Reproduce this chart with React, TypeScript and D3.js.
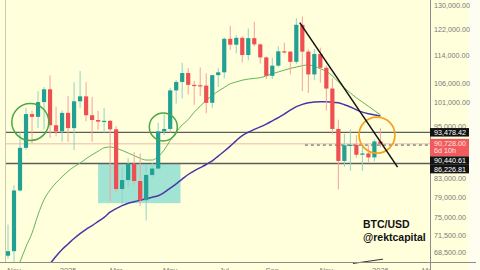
import React from "react";
import * as d3 from "d3";

const W = 480;
const H = 270;

// weekly candles, first Monday = 2024-10-28, prices in USD thousands
const firstWeek = "2024-10-28";
const opens = [67.9, 68.7, 80.4, 89.8, 98.0, 97.3, 101.1, 104.5, 95.2, 93.7, 98.3, 94.5, 101.3, 102.6, 97.7, 96.5, 96.1, 96.3, 94.2, 80.7, 82.6, 86.1, 82.4, 78.4, 83.7, 85.1, 93.7, 94.3, 104.2, 106.5, 109.0, 105.7, 105.6, 105.5, 100.9, 108.4, 109.2, 119.1, 117.3, 119.4, 114.2, 119.3, 117.4, 113.5, 108.2, 111.1, 115.3, 115.2, 112.2, 123.5, 115.2, 108.6, 114.5, 110.5, 104.7, 94.3, 86.8, 90.3, 90.5, 88.2, 88.5, 87.6, 91.3];
const highs = [73.6, 81.5, 93.5, 99.6, 98.9, 104.0, 105.1, 108.3, 99.9, 98.9, 102.7, 106.4, 109.6, 106.5, 102.5, 98.8, 99.5, 96.5, 95.0, 85.3, 87.5, 88.8, 88.5, 86.1, 86.4, 95.8, 97.9, 104.9, 107.1, 111.9, 110.4, 106.8, 110.6, 108.9, 108.5, 110.5, 119.5, 123.2, 120.2, 119.9, 122.3, 124.5, 117.6, 113.8, 113.4, 116.8, 117.9, 115.4, 125.7, 126.2, 115.9, 116.0, 116.4, 111.1, 107.5, 96.6, 93.1, 94.2, 92.8, 90.6, 90.5, 91.8, 94.5];
const lows = [67.4, 66.8, 80.2, 89.4, 90.8, 94.5, 94.2, 92.1, 92.5, 91.2, 91.2, 89.3, 99.5, 96.2, 91.2, 94.1, 93.4, 78.2, 80.0, 77.5, 81.2, 81.6, 77.2, 74.4, 83.1, 85.1, 92.8, 93.4, 100.7, 102.1, 103.1, 100.4, 102.7, 98.2, 99.6, 105.1, 107.5, 115.7, 114.7, 112.0, 112.6, 116.8, 111.7, 107.3, 107.3, 110.6, 114.6, 108.6, 111.6, 104.0, 103.5, 107.0, 106.3, 98.9, 93.0, 80.6, 85.5, 84.6, 87.5, 84.6, 86.5, 86.7, 89.9];
const closes = [68.7, 80.4, 89.8, 98.0, 97.3, 101.1, 104.5, 95.2, 93.7, 98.3, 94.5, 101.3, 102.6, 97.7, 96.5, 96.1, 96.3, 94.2, 80.7, 82.6, 86.1, 82.4, 78.4, 83.7, 85.1, 93.7, 94.3, 104.2, 106.5, 109.0, 105.7, 105.6, 105.5, 100.9, 108.4, 109.2, 119.1, 117.3, 119.4, 114.2, 119.3, 117.4, 113.5, 108.2, 111.1, 115.3, 115.2, 112.2, 123.5, 115.2, 108.6, 114.5, 110.5, 104.7, 94.3, 86.8, 90.4, 90.5, 88.2, 88.5, 87.6, 91.3, 90.728];

// moving averages (USD thousands), one value per week
const greenMA = [61.0, 64.0, 66.8, 69.5, 72.0, 75.5, 78.5, 80.5, 82.0, 83.3, 84.5, 85.5, 86.3, 87.3, 88.2, 89.0, 89.8, 90.0, 89.7, 89.2, 88.6, 88.0, 87.4, 87.0, 87.0, 87.8, 89.3, 91.5, 93.5, 95.3, 96.6, 98.5, 100.0, 101.6, 102.8, 104.0, 105.0, 106.0, 106.5, 107.0, 107.3, 107.5, 107.7, 108.2, 108.8, 109.3, 109.8, 110.3, 110.7, 111.1, 111.3, 110.9, 110.2, 109.5, 108.2, 106.5, 104.9, 103.5, 102.2, 101.1, 100.0, 98.9, 97.8];
const purpleMA = [56.0, 58.0, 59.5, 61.0, 62.5, 64.0, 65.5, 66.5, 67.8, 69.0, 70.0, 71.0, 71.9, 72.7, 73.4, 74.2, 75.0, 76.0, 76.7, 77.3, 77.8, 78.1, 78.4, 78.7, 79.0, 79.3, 80.0, 80.9, 81.8, 82.8, 83.8, 84.6, 85.3, 86.0, 86.8, 87.9, 89.0, 90.2, 91.5, 92.7, 93.5, 94.2, 94.8, 95.5, 96.3, 97.1, 98.0, 99.0, 99.9, 100.5, 100.9, 101.1, 101.2, 101.2, 101.0, 100.9, 100.4, 99.8, 99.1, 98.5, 98.1, 97.8, 97.5];

const yTicks = [130000, 122000, 114000, 106000, 101000, 95000, 83000, 79000, 75000, 71500, 68500];
const xTickDates = ["2024-11-04", "2025-01-06", "2025-03-03", "2025-05-05", "2025-07-07", "2025-09-01", "2025-11-03", "2026-01-05", "2026-03-02"];
const xTickLabels = ["Nov", "2025", "Mar", "May", "Jul", "Sep", "Nov", "2026", "Mar"];

const solidLevels = [93478.42, 86226.81];
const dashedLevel = 90440.61;
const dashedFrom = "2025-10-09";
const lastPrice = 90728.0;
const countdown = "6d 10h";

const zoneDates = ["2025-02-10", "2025-05-17"];
const zonePrices = [77800, 86226.81];

const greenCircleDates = ["2024-11-23", "2025-04-27"];
const greenCirclePrices = [96000, 94800];
const greenCircleR = [18.5, 14];
const orangeCircleDate = "2026-01-01";
const orangeCirclePrice = 92800;

const trendDates = ["2025-10-03", "2026-01-25"];
const trendPrices = [124200, 85400];
const lowLineDates = ["2025-12-04", "2026-01-08"];
const lowLinePrices = [66550, 67300];

const tagTitle = "BTC/USD";
const tagHandle = "@rektcapital";

const parse = d3.utcParse("%Y-%m-%d");

export default function App() {
  const plotL = 5, plotR = 430, plotB = 262;
  const x = d3
    .scaleUtc()
    .domain([new Date(Date.UTC(2024, 9, 24, 12)), new Date(Date.UTC(2026, 2, 3, 19))])
    .range([plotL, plotR]);
  const y = d3.scaleLog().domain([66804, 131695]).range([plotB, 0]);
  const start = parse(firstWeek)!;
  const weekDates = opens.map((_, i) => d3.utcMonday.offset(start, i));
  const bodyW = 4.2;
  const fmt = d3.format(",.2f");

  const maLine = (vals: number[]) =>
    d3
      .line<number>()
      .x((_, i) => x(weekDates[i]))
      .y((v) => y(v * 1000))
      .curve(d3.curveMonotoneX)(vals) || "";

  const font = "'Liberation Sans', Arial, sans-serif";

  // price tags on the axis with simple stacking
  type Tag = { price: number; lines: string[]; fill: string; text: string };
  const tags: Tag[] = [
    { price: solidLevels[0], lines: [fmt(solidLevels[0])], fill: "#131313", text: "#ffffff" },
    { price: lastPrice, lines: [fmt(lastPrice), countdown], fill: "#f15b5d", text: "#ffe4e4" },
    { price: dashedLevel, lines: [fmt(dashedLevel)], fill: "#131313", text: "#ffffff" },
    { price: solidLevels[1], lines: [fmt(solidLevels[1])], fill: "#131313", text: "#ffffff" },
  ];
  const placed: { tag: Tag; top: number; h: number }[] = [];
  let prevBottom = -Infinity;
  tags
    .slice()
    .sort((a, b) => y(a.price) - y(b.price))
    .forEach((t) => {
      const h = t.lines.length > 1 ? 17.5 : 8.5;
      const desired = y(t.price) - (t.lines.length > 1 ? 5 : 4.25);
      const top = Math.max(desired, prevBottom);
      placed.push({ tag: t, top, h });
      prevBottom = top + h;
    });

  return (
    <svg width={W} height={H} style={{ position: "absolute", left: 0, top: 0, display: "block" }}>
      <defs>
        <clipPath id="plot">
          <rect x={plotL} y={0} width={plotR - plotL} height={plotB} />
        </clipPath>
      </defs>
      <rect x={0} y={0} width={W} height={H} fill="#ffffdc" />
      <rect x={468} y={0} width={12} height={H} fill="#fdfdf0" />

      <g clipPath="url(#plot)">
        {/* faint last price line */}
        <line x1={plotL} x2={plotR} y1={y(lastPrice)} y2={y(lastPrice)} stroke="#efb9a4" strokeWidth={1} />
        {/* zone */}
        <rect
          x={x(parse(zoneDates[0])!)}
          y={y(zonePrices[1])}
          width={x(parse(zoneDates[1])!) - x(parse(zoneDates[0])!)}
          height={y(zonePrices[0]) - y(zonePrices[1])}
          fill="#a2e4d3"
        />
        {/* levels */}
        {solidLevels.map((p) => (
          <line key={p} x1={plotL} x2={plotR} y1={y(p)} y2={y(p)} stroke="#5d5d5d" strokeWidth={1.3} />
        ))}
        <line
          x1={x(parse(dashedFrom)!)}
          x2={plotR}
          y1={y(dashedLevel)}
          y2={y(dashedLevel)}
          stroke="#555"
          strokeWidth={1}
          strokeDasharray="3,3"
        />
        {/* MAs */}
        <path d={maLine(greenMA)} fill="none" stroke="#5fb65a" strokeWidth={1} />
        <path d={maLine(purpleMA)} fill="none" stroke="#4b36a6" strokeWidth={1.5} />
        {/* candles */}
        {weekDates.map((d, i) => {
          const up = closes[i] >= opens[i];
          const cx = x(d);
          const yo = y(opens[i] * 1000);
          const yc = y(closes[i] * 1000);
          const top = Math.min(yo, yc);
          const hgt = Math.max(1.2, Math.abs(yo - yc));
          return (
            <g key={i}>
              <line
                x1={cx}
                x2={cx}
                y1={y(highs[i] * 1000)}
                y2={y(lows[i] * 1000)}
                stroke={up ? "#8fd2c8" : "#f4a2a0"}
                strokeWidth={1}
              />
              <rect x={cx - bodyW / 2} y={top} width={bodyW} height={hgt} fill={up ? "#22a093" : "#ee4f52"} />
            </g>
          );
        })}
        {/* circles */}
        {greenCircleDates.map((d, i) => (
          <circle
            key={d}
            cx={x(parse(d)!)}
            cy={y(greenCirclePrices[i])}
            r={greenCircleR[i]}
            fill="none"
            stroke="#47a845"
            strokeWidth={1.5}
          />
        ))}
        <circle
          cx={x(parse(orangeCircleDate)!)}
          cy={y(orangeCirclePrice)}
          r={18}
          fill="none"
          stroke="#f4a21c"
          strokeWidth={1.7}
        />
        {/* trend line */}
        <line
          x1={x(parse(trendDates[0])!)}
          y1={y(trendPrices[0])}
          x2={x(parse(trendDates[1])!)}
          y2={y(trendPrices[1])}
          stroke="#111"
          strokeWidth={1.5}
        />
      </g>
      <line
        x1={x(parse(lowLineDates[0])!)}
        y1={y(lowLinePrices[0])}
        x2={x(parse(lowLineDates[1])!)}
        y2={y(lowLinePrices[1])}
        stroke="#333"
        strokeWidth={1}
      />

      {/* axes */}
      <line x1={plotL + 0.5} x2={plotL + 0.5} y1={0} y2={plotB} stroke="#c9c9b8" strokeWidth={1} />
      <line x1={0} x2={476} y1={plotB + 0.5} y2={plotB + 0.5} stroke="#8c8c8c" strokeWidth={1} />
      <line x1={plotR + 0.5} x2={plotR + 0.5} y1={0} y2={H} stroke="#8c8c8c" strokeWidth={1} />

      {/* price labels */}
      {yTicks.map((t) => (
        <text key={t} x={434} y={y(t)} dy="0.35em" fontSize={7.2} fontFamily={font} fill="#7a7a7a">
          {fmt(t)}
        </text>
      ))}
      {placed.map(({ tag, top, h }) => (
        <g key={tag.price}>
          <rect x={plotR} y={top} width={39} height={h} fill={tag.fill} />
          {tag.lines.map((ln, k) => (
            <text
              key={k}
              x={434}
              y={top + 4.4 + k * 7.6}
              dy="0.35em"
              fontSize={7.2}
              fontFamily={font}
              fill={tag.text}
            >
              {ln}
            </text>
          ))}
        </g>
      ))}

      {/* time labels */}
      <svg x={0} y={0} width={plotR} height={H} overflow="hidden">
        {xTickDates.map((d, i) => (
          <text
            key={d + i}
            x={x(parse(d)!)}
            y={273}
            textAnchor="middle"
            fontSize={7.5}
            fontFamily={font}
            fill="#7a7a7a"
          >
            {xTickLabels[i]}
          </text>
        ))}
      </svg>

      {/* watermark */}
      <text x={363} y={228} fontSize={10.5} fontWeight="bold" fontFamily={font} fill="#111">
        {tagTitle}
      </text>
      <text x={363} y={241} fontSize={10.5} fontWeight="bold" fontFamily={font} fill="#111">
        {tagHandle}
      </text>
    </svg>
  );
}
